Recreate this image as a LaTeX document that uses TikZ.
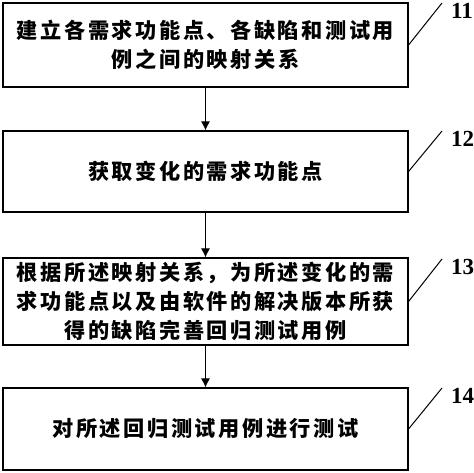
\documentclass[tikz,border=0pt]{standalone}
\usepackage{fontspec}
\usepackage{tikz}
\usetikzlibrary{arrows.meta}
\newfontfamily\cjk[LetterSpace=12]{Noto Sans CJK SC}
\newfontfamily\numfont{Liberation Serif}

\tikzset{
    stepbox/.style={draw, line width=1.1pt, minimum width=405pt, inner sep=0pt,
        align=center, font=\cjk\bfseries\fontsize{21.2}{29}\selectfont},
    flow/.style={line width=1pt, -{Latex[length=9pt,width=9pt]}},
    tag/.style={font=\numfont\bfseries\fontsize{23}{23}\selectfont, inner sep=0pt, anchor=west}
}

\begin{document}
\begin{tikzpicture}[x=1pt,y=-1pt]

    \useasboundingbox (0,0) rectangle (474,472);
    \node[stepbox, minimum height=84pt] (s11) at (205.5,45)
        {建立各需求功能点、各缺陷和测试用\\例之间的映射关系};
    \node[stepbox, minimum height=81pt] (s12) at (205.5,171.5)
        {获取变化的需求功能点};
    \node[stepbox, minimum height=87pt] (s13) at (205.5,301.5)
        {根据所述映射关系，为所述变化的需\\求功能点以及由软件的解决版本所获\\得的缺陷完善回归测试用例};
    \node[stepbox, minimum height=82pt] (s14) at (205.5,429)
        {对所述回归测试用例进行测试};

    \foreach \from/\to in {s11/s12,s12/s13,s13/s14}{%
        \draw[flow] (\from) -- (\to);
    }
    \foreach \n/\y in {11/3,12/131,13/259,14/388}{%
        \coordinate (t\n) at (442,\y);
        \draw[line width=1pt] (s\n.east) -- (t\n);
        \node[tag] (l\n) at (451,\y+8) {\n};
    }
\end{tikzpicture}
\end{document}
